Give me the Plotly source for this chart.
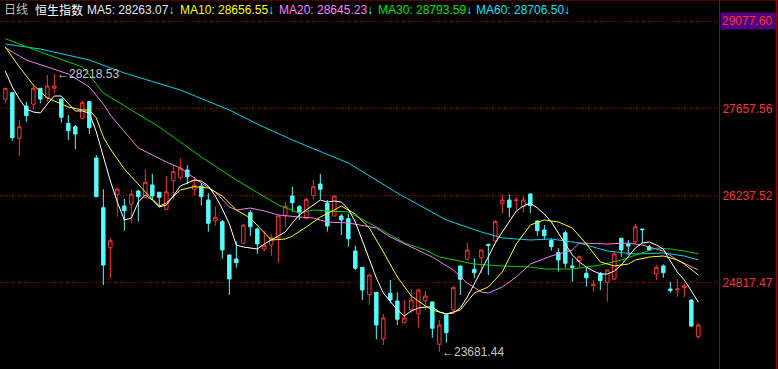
import plotly.graph_objects as go

# ---------------- data ----------------
idx = list(range(100))
opens = [27805, 27912, 27168, 27695, 27723, 27984, 27831, 27985, 27809, 27413,
         27357, 27494, 27765, 26846, 26035, 25382, 26247, 26063, 26091, 26308,
         26198, 26406, 26287, 26009, 26476, 26531, 26651, 26335, 26389, 26161,
         25823, 25807, 25263, 25198, 25454, 25954, 25688, 25361, 25426, 25546,
         25900, 26226, 26052, 25862, 26231, 26422, 26107, 25900, 25900, 25856,
         25328, 25062, 24615, 24654, 23892, 24638, 24512, 24158, 24366, 24312,
         24517, 24496, 23806, 24284, 24366, 25084, 25193, 25030, 25219, 25438,
         25492, 26107, 26161, 26150, 26055, 26259, 25818, 25671, 25503, 25301,
         25627, 25084, 25170, 24964, 24762, 24964, 24818, 24872, 25536, 25443,
         25480, 25688, 25399, 24953, 25084, 24708, 24697, 24730, 24529, 23930]
highs = [27990, 27924, 27467, 27765, 28038, 27989, 28201, 28218.53, 27815, 27548,
         27385, 27782, 27777, 26895, 26336, 25546, 26357, 26177, 26324, 26324,
         26662, 26585, 26292, 26553, 26732, 26842, 26732, 26541, 26438, 26270,
         26052, 25835, 25270, 25480, 25760, 25998, 25715, 25655, 25601, 25905,
         26133, 26378, 26079, 26194, 26487, 26585, 26161, 26242, 25932, 25932,
         25415, 25067, 24945, 24660, 24300, 24855, 24654, 24529, 24703, 24713,
         24676, 24505, 24202, 24290, 24757, 25090, 25464, 25209, 25352, 25445,
         25835, 26254, 26254, 26205, 26218, 26265, 25825, 25753, 25536, 25377,
         25660, 25209, 25258, 25062, 24855, 24986, 25022, 25333, 25545, 25508,
         25769, 25690, 25426, 25100, 25111, 24827, 24872, 24801, 24535, 24148]
lows = [27739, 27129, 26879, 27439, 27630, 27739, 27765, 27902, 27423, 27140,
        26993, 27478, 27238, 26210, 24774, 24883, 25888, 25660, 25781, 25807,
        26194, 26161, 26052, 25998, 26172, 26487, 26417, 26231, 26068, 25644,
        25737, 25203, 24610, 25056, 25440, 25573, 25280, 25329, 25247, 25138,
        25725, 25970, 25835, 25851, 26172, 26172, 25644, 25890, 25590, 25399,
        25018, 24529, 24447, 23887, 23794, 24475, 24121, 24148, 24321, 24077,
        24366, 23913, 23681.44, 23832, 24338, 24610, 25185, 24883, 24964, 24937,
        25475, 25944, 25879, 25998, 25954, 25944, 25578, 25508, 25333, 24991,
        25056, 24827, 25062, 24746, 24664, 24692, 24501, 24855, 25235, 25263,
        25443, 25454, 25329, 24855, 24893, 24648, 24583, 24573, 24093, 23897]
closes = [27984, 27178, 27357, 27537, 27984, 27809, 28022, 28020, 27511, 27292,
          27238, 27749, 27341, 26215, 25100, 25497, 26340, 25986, 26254, 26215,
          26450, 26226, 26205, 26296, 26623, 26678, 26541, 26401, 26215, 25781,
          25879, 25345, 24872, 25138, 25753, 25725, 25443, 25422, 25546, 25900,
          26052, 26117, 25954, 26172, 26378, 26335, 25737, 26226, 25835, 25529,
          25046, 24692, 24937, 24121, 24235, 24529, 24214, 24235, 24529, 24692,
          24594, 24067, 24121, 23995, 24730, 24867, 25345, 24974, 25345, 25422,
          25807, 26161, 26042, 26161, 26161, 26068, 25660, 25578, 25399, 25182,
          25128, 25062, 25235, 24893, 24785, 24844, 25018, 25280, 25345, 25410,
          25725, 25676, 25345, 25062, 24974, 24681, 24708, 24757, 24104, 24121]

ma5 = [28263.07, 28005, 27809, 27646, 27597, 27581, 27728, 27858, 27858, 27744,
       27614, 27614, 27581, 27271, 26863, 26471, 26128, 25835, 25867, 26128,
       26243, 26161, 26047, 26079, 26226, 26389, 26438, 26487, 26471, 26389,
       26226, 26014, 25769, 25426, 25394, 25377, 25361, 25443, 25508, 25573,
       25639, 25786, 25916, 25998, 26079, 26161, 26128, 26145, 26128, 26014,
       25802, 25492, 25182, 24888, 24643, 24512, 24366, 24268, 24349, 24398,
       24414, 24414, 24333, 24300, 24317, 24398, 24578, 24790, 25018, 25247,
       25459, 25639, 25818, 25981, 26063, 26112, 26030, 25932, 25802, 25622,
       25426, 25263, 25149, 25067, 25002, 24953, 24953, 25002, 25100, 25247,
       25377, 25459, 25475, 25426, 25361, 25165, 24986, 24855, 24676, 24496]

ma10_idx = [0, 2, 4, 6, 9, 11, 12, 13, 14, 15, 16, 17, 20, 22, 23, 24, 25, 27, 29, 31,
            33, 35, 37, 38, 40, 41, 43, 45, 47, 48, 50, 52, 54, 56, 58, 60, 61, 63, 65,
            67, 69, 71, 73, 75, 77, 79, 81, 83, 85, 87, 89, 90, 92, 94, 96, 97, 99]
ma10 = [28656.55, 28332, 28038, 27826, 27679, 27630, 27630, 27499, 27189, 26993,
        26830, 26667, 26292, 26063, 26112, 26210, 26324, 26378, 26357, 26226,
        25998, 25867, 25639, 25508, 25524, 25573, 25720, 25883, 25998, 26063,
        25932, 25704, 25312, 24904, 24594, 24431, 24366, 24300, 24366, 24643,
        24741, 24986, 25443, 25753, 25835, 25802, 25704, 25443, 25149, 25084,
        25116, 25182, 25230, 25247, 25182, 25116, 24937]

ma20_idx = [0, 3, 9, 12, 14, 15, 19, 23, 25, 26, 28, 30, 32, 33, 35, 37, 39, 42, 44, 46,
            49, 53, 55, 58, 61, 64, 66, 68, 69, 71, 73, 75, 78, 81, 82, 86, 89, 91, 94,
            96, 99]
ma20 = [28645.23, 28446, 28217, 28005, 27728, 27548, 27010, 26781, 26683, 26602,
        26438, 26292, 26047, 25998, 26030, 25981, 25916, 25883, 25867, 25802,
        25786, 25704, 25557, 25394, 25230, 25018, 24806, 24659, 24643, 24741,
        24904, 25116, 25247, 25345, 25459, 25443, 25459, 25426, 25328, 25182, 25018]

ma30_idx = [0, 5, 11, 12, 14, 18, 22, 25, 28, 33, 37, 39, 42, 44, 46, 49, 53, 57, 60,
            62, 67, 71, 75, 77, 81, 85, 88, 91, 93, 95, 97, 99]
ma30 = [28793.59, 28577, 28332, 28201, 27907, 27630, 27352, 27108, 26863, 26487,
        26210, 26079, 25949, 25998, 25981, 25965, 25720, 25459, 25345, 25230,
        25116, 25084, 25067, 25035, 25035, 25100, 25182, 25296, 25377, 25361,
        25328, 25280]

ma60_idx = [0, 5, 12, 17, 25, 32, 36, 41, 49, 56, 63, 68, 71, 75, 78, 82, 86, 90, 94, 97, 99]
ma60 = [28706.50, 28625, 28446, 28234, 27956, 27630, 27401, 27140, 26765, 26275,
        25834, 25639, 25541, 25508, 25524, 25459, 25328, 25280, 25296, 25247, 25182]

tick_vals = [29077.60, 27657.56, 26237.52, 24817.47]
tick_labels = ["29077.60", "27657.56", "26237.52", "24817.47"]

legend_items = [
    ("日线", "#C0C0C0"),
    ("恒生指数", "#FFFFFF"),
    ("MA5: 28263.07", "#E8E8F8"),
    ("MA10: 28656.55", "#FFFF00"),
    ("MA20: 28645.23", "#FF80FF"),
    ("MA30: 28793.59", "#00E600"),
    ("MA60: 28706.50", "#00E5FF"),
]
legend_px = [2, 33, 85, 178, 277, 376, 474]

# ---------------- figure ----------------
W, H = 778, 369
PLOT_W = 719
RED = "#FF3232"
CYAN = "#54FCFC"
BORDER = "#A00000"
FONT = "Liberation Sans, Arial, Noto Sans CJK SC"

fig = go.Figure()

fig.add_trace(go.Candlestick(
    x=idx, open=opens, high=highs, low=lows, close=closes,
    increasing=dict(line=dict(color=RED, width=1), fillcolor="#000000"),
    decreasing=dict(line=dict(color=CYAN, width=1), fillcolor=CYAN),
    whiskerwidth=0, showlegend=False, hoverinfo="skip",
))

for xs, ys, col in [
    (ma60_idx, ma60, "#00D2F0"),
    (ma30_idx, ma30, "#00D000"),
    (ma20_idx, ma20, "#F080F0"),
    (ma10_idx, ma10, "#FFFF00"),
    (idx, ma5, "#FFFFFF"),
]:
    fig.add_trace(go.Scatter(x=xs, y=ys, mode="lines",
                             line=dict(color=col, width=1),
                             showlegend=False, hoverinfo="skip"))

annotations = []
for (txt, col), px in zip(legend_items, legend_px):
    arrow = "" if txt in ("日线", "恒生指数") else "<span style='color:#54FCFC'>↓</span>"
    annotations.append(dict(
        xref="paper", yref="paper", x=px / PLOT_W, y=1, xanchor="left", yanchor="top",
        yshift=-1, text=f"<span style='color:{col}'>{txt}</span>{arrow}",
        showarrow=False, font=dict(family=FONT, size=12, color=col)))

# extreme value markers
hi_i = highs.index(max(highs))
lo_i = lows.index(min(lows))
annotations.append(dict(xref="x", yref="y", x=idx[hi_i], y=highs[hi_i], xanchor="left",
                        yanchor="middle", xshift=1, showarrow=False,
                        text="←" + f"{highs[hi_i]:.2f}",
                        font=dict(family=FONT, size=12, color="#C8C8C8")))
annotations.append(dict(xref="x", yref="y", x=idx[lo_i], y=lows[lo_i], xanchor="left",
                        yanchor="middle", xshift=1, showarrow=False,
                        text="←" + f"{lows[lo_i]:.2f}",
                        font=dict(family=FONT, size=12, color="#C8C8C8")))

# highlighted top price label
annotations.append(dict(xref="paper", yref="y", x=1, y=tick_vals[0], xanchor="left",
                        yanchor="middle", xshift=1, showarrow=False,
                        text=tick_labels[0], bgcolor="#500080", borderpad=1,
                        width=52, height=14, align="left",
                        font=dict(family=FONT, size=12, color=RED)))

# y range from gridline pixel calibration
y_top = 29425.3
y_bot = 29425.3 - 16.322 * H

fig.update_layout(
    width=W, height=H,
    margin=dict(l=0, r=W - PLOT_W, t=0, b=0, autoexpand=False),
    paper_bgcolor="#000000", plot_bgcolor="#000000",
    xaxis=dict(range=[-5.33 / 7, (PLOT_W - 5.33) / 7], showgrid=False, zeroline=False,
               showticklabels=False, ticks="", rangeslider=dict(visible=False),
               showline=True, side="top", linecolor=BORDER, linewidth=1),
    yaxis=dict(range=[y_bot, y_top], side="right", tickvals=tick_vals,
               ticktext=[""] + tick_labels[1:], ticks="",
               tickfont=dict(family=FONT, size=12, color=RED),
               showgrid=True, gridcolor="#B40000", griddash="1px,2px", gridwidth=1,
               zeroline=False, showline=True, mirror=True, linecolor=BORDER, linewidth=1),
    annotations=annotations,
    shapes=[
        dict(type="line", xref="paper", yref="paper", x0=0, x1=(W - 1) / PLOT_W,
             y0=1, y1=1, line=dict(color=BORDER, width=1)),
        dict(type="line", xref="paper", yref="paper", x0=776.5 / PLOT_W, x1=776.5 / PLOT_W,
             y0=0, y1=1, line=dict(color=BORDER, width=1)),
    ],
)

fig.write_html("out.html")
